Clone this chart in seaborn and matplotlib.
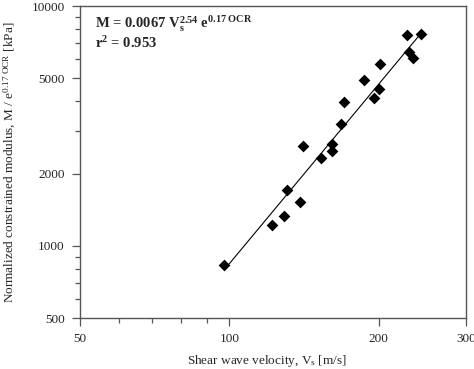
import numpy as np
import pandas as pd
import seaborn as sns
import matplotlib
matplotlib.use('Agg')
import matplotlib.pyplot as plt
from matplotlib.ticker import FixedLocator, NullFormatter

# values
shear_velocity = [228.5, 243.1, 230.6, 234.6, 201.0, 186.6, 200.3, 195.5, 170.3, 167.9,
                  140.6, 161.1, 160.8, 152.8, 130.9, 138.8, 129.1, 121.7, 97.7]
norm_modulus = [7570, 7620, 6450, 6070, 5710, 4930, 4520, 4150, 3970, 3210,
                2615, 2665, 2485, 2330, 1715, 1520, 1330, 1220, 830]

# regression line end points
fit_vs = [97.7, 241.0]
fit_m = [795, 7500]

x_ticks = [50, 100, 200, 300]
x_minor = [60, 70, 80, 90]
y_ticks = [500, 1000, 2000, 5000, 10000]

sns.set_style('ticks')
plt.rcParams['font.family'] = ['Liberation Serif', 'DejaVu Serif']
plt.rcParams['mathtext.fontset'] = 'custom'
plt.rcParams['mathtext.rm'] = 'Liberation Serif'
plt.rcParams['mathtext.it'] = 'Liberation Serif:italic'
plt.rcParams['mathtext.bf'] = 'Liberation Serif:bold'

df = pd.DataFrame({'vs': shear_velocity, 'm': norm_modulus})
fit = pd.DataFrame({'vs': fit_vs, 'm': fit_m})

fig = plt.figure(figsize=(4.74, 3.69), dpi=100)
ax = fig.add_axes([0.1688, 0.138, 0.8142, 0.8457])

sns.lineplot(data=fit, x='vs', y='m', color='black', lw=0.8, ax=ax)
sns.scatterplot(data=df, x='vs', y='m', marker='D', color='black', s=36,
                edgecolor='black', linewidth=0, ax=ax, zorder=3)

ax.set_xscale('log')
ax.set_yscale('log')
ax.set_xlim(50, 300)
ax.set_ylim(500, 10000)

ax.xaxis.set_major_locator(FixedLocator(x_ticks))
ax.xaxis.set_minor_locator(FixedLocator(x_minor))
ax.set_xticklabels([str(t) for t in x_ticks])
ax.xaxis.set_minor_formatter(NullFormatter())
ax.yaxis.set_major_locator(FixedLocator(y_ticks))
ax.set_yticklabels([str(t) for t in y_ticks])
ax.yaxis.set_minor_formatter(NullFormatter())

for s in ax.spines.values():
    s.set_color('#555555')
    s.set_linewidth(1.0)
ax.tick_params(which='major', direction='out', length=6, width=0.9, color='#555555',
               labelsize=9.5, pad=5)
ax.tick_params(which='minor', direction='out', length=3.5, width=0.9, color='#555555')

ax.set_xlabel(r'Shear wave velocity, V$_{\rm s}$ [m/s]', fontsize=9.5)
ax.set_ylabel(r'Normalized constrained modulus, M / e$^{\rm 0.17\ OCR}$ [kPa]',
              fontsize=9.5)
ax.xaxis.set_label_coords(0.484, -0.112)
ax.yaxis.set_label_coords(-0.16, 0.5)

ax.text(0.039, 0.929, r'M = 0.0067 V$_\mathbf{s}^\mathbf{2.54}$ e$^\mathbf{0.17\ OCR}$',
        transform=ax.transAxes, fontsize=10.5, fontweight='bold', ha='left', va='baseline')
ax.text(0.039, 0.865, r'r$^\mathbf{2}$ = 0.953',
        transform=ax.transAxes, fontsize=10.5, fontweight='bold', ha='left', va='baseline')

fig.savefig('out.png', dpi=100)
